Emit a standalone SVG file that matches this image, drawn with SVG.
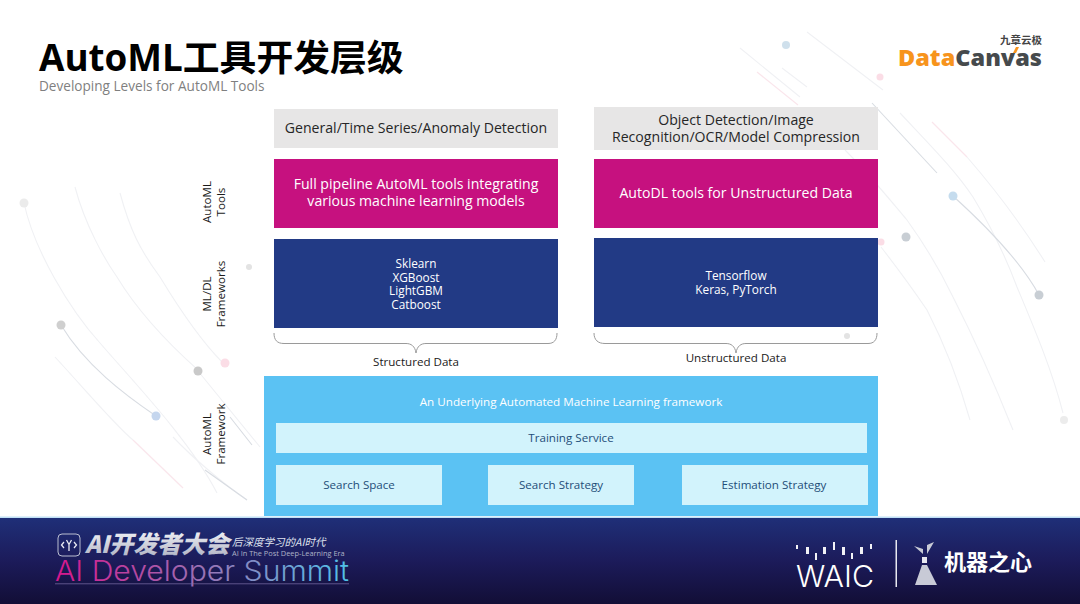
<svg xmlns="http://www.w3.org/2000/svg" width="1080" height="604" viewBox="0 0 1080 604">
<defs>
<linearGradient id="band" x1="0" y1="0" x2="0" y2="1"><stop offset="0" stop-color="#1f2f78"/><stop offset="0.5" stop-color="#1c1b5a"/><stop offset="1" stop-color="#120e36"/></linearGradient>
<linearGradient id="sum" x1="0" y1="0" x2="1" y2="0"><stop offset="0" stop-color="#d8158c"/><stop offset="0.5" stop-color="#9b72b4"/><stop offset="1" stop-color="#4fc3e8"/></linearGradient>
<linearGradient id="silver" x1="0" y1="0" x2="0" y2="1"><stop offset="0" stop-color="#ffffff"/><stop offset="1" stop-color="#a9adc0"/></linearGradient>
</defs>
<style>
text{font-family:"Open Sans","Noto Sans","Noto Sans CJK SC",sans-serif;text-anchor:middle}
.g{fill:#e7e6e6}.m{fill:#c6117f}.n{fill:#223a85}.lt{fill:#d2f3fc}
.k{font-size:14.1px;fill:#262626}.w{font-size:14.1px;fill:#fff}.s{font-size:11.8px;fill:#fff}.c{font-size:11.6px;fill:#1f4e79}
.d{font-size:11.6px;fill:#1a1a1a}.rot{font-size:11.6px;fill:#1a1a1a}
.bl{fill:none;stroke:#f0f1f4;stroke-width:1.1}.bd{fill:none;stroke:#d8dce2;stroke-width:1.1}.bp{fill:none;stroke:#fae6ec;stroke-width:1.2}.br{fill:none;stroke:#9a9a9a;stroke-width:1}
</style>
<rect width="1080" height="604" fill="#fff"/>
<g id="background">
<path class="bl" d="M24 203C34 250 70 310 100 343C130 378 190 440 217 493"/>
<path class="bd" d="M61 325C85 365 125 395 156 416"/>
<path class="bl" d="M173 437C195 460 225 485 247 500"/>
<path class="bd" d="M205 470L247 500M230 417L252 445"/>
<path class="bl" d="M55 357C90 395 115 425 133 440"/>
<path class="bp" d="M133 440L183 488"/>
<path class="bl" d="M75 187C85 225 105 260 117 277C140 315 170 345 198 370M198 371L260 447"/>
<path class="bl" d="M120 193C130 230 140 250 160 277C180 310 200 340 223 363"/>
<path class="bl" d="M807 32L883 90M740 48L800 97M782 68L807 87"/>
<path class="bp" d="M757 72L798 105"/>
<path class="bd" d="M872 103L937 173"/>
<path class="bl" d="M900 113C930 145 955 170 973 197C990 225 1005 255 1017 287C1035 330 1052 370 1063 413"/>
<path class="bp" d="M932 122L967 157"/>
<path class="bl" d="M967 157C1000 195 1025 230 1045 262"/>
<path class="bd" d="M953 196C985 225 1020 260 1039 295"/>
<path class="bl" d="M845 150C870 175 890 200 907 220C925 245 940 270 953 297C975 340 995 385 1013 430"/>
<path class="bl" d="M881 247C895 265 910 285 927 310C945 345 960 385 970 420"/>
<circle cx="786" cy="45" r="4" fill="#cfe0ec"/><circle cx="880" cy="77" r="3.500" fill="#fbdde6"/><circle cx="953" cy="196" r="4.500" fill="#c5dcee"/><circle cx="906" cy="237" r="4.500" fill="#c8ced4"/><circle cx="1039" cy="295" r="4.500" fill="#c8ced4"/><circle cx="1064" cy="420" r="4" fill="#ececec"/><circle cx="881" cy="242" r="3.500" fill="#fbdde6"/>
<circle cx="24" cy="203" r="4.500" fill="#ebebeb"/><circle cx="61" cy="325" r="4.500" fill="#cfcfcf"/><circle cx="198" cy="371" r="4.500" fill="#c9c9c9"/><circle cx="225" cy="363" r="4.500" fill="#fbdde6"/><circle cx="156" cy="416" r="4.500" fill="#c5d6ee"/><circle cx="249" cy="267" r="3" fill="#e3e3e3"/><circle cx="847" cy="336" r="3" fill="#e3e3e3"/>
</g>
<g id="title">
<text x="39" y="71" style="text-anchor:start;font-size:36.8px;font-weight:700;fill:#000;font-family:'Open Sans','Noto Sans CJK SC',sans-serif">AutoML工具开发层级</text>
<text x="39" y="91" style="text-anchor:start;font-size:13.6px;fill:#7f7f7f">Developing Levels for AutoML Tools</text>
</g>
<g id="logo-datacanvas">
<text x="1042" y="43.500" style="text-anchor:end;font-size:10.500px;font-weight:700;fill:#444;font-family:'Noto Sans CJK SC',sans-serif">九章云极</text>
<text x="898" y="65.500" textLength="144" lengthAdjust="spacingAndGlyphs" style="text-anchor:start;font-size:23.500px;font-weight:800;fill:#f7941d;font-family:'Open Sans',sans-serif">Data<tspan fill="#464a4c">Canvas</tspan></text>
<path d="M1013 53L1016 47H1019L1016 53Z" fill="#f7941d"/>
</g>
<g id="label-automl-tools" transform="translate(212 202) rotate(-90)"><text class="rot"><tspan x="0" y="-1">AutoML</tspan><tspan x="0" y="13">Tools</tspan></text></g>
<g id="label-frameworks" transform="translate(212 294) rotate(-90)"><text class="rot"><tspan x="0" y="-1">ML/DL</tspan><tspan x="0" y="13">Frameworks</tspan></text></g>
<g id="label-automl-framework" transform="translate(212 434) rotate(-90)"><text class="rot"><tspan x="0" y="-1">AutoML</tspan><tspan x="0" y="13">Framework</tspan></text></g>
<g id="node-general"><rect class="g" x="274" y="109" width="284" height="39"/><text class="k" x="416" y="133">General/Time Series/Anomaly Detection</text></g>
<g id="node-object"><rect class="g" x="594" y="107" width="284" height="43"/><text class="k" x="736" y="125">Object Detection/Image</text><text class="k" x="736" y="142">Recognition/OCR/Model Compression</text></g>
<g id="node-full-pipeline"><rect class="m" x="274" y="159" width="284" height="69"/><text class="w" x="416" y="189">Full pipeline AutoML tools integrating</text><text class="w" x="416" y="206">various machine learning models</text></g>
<g id="node-autodl"><rect class="m" x="594" y="159" width="284" height="69"/><text class="w" x="736" y="198">AutoDL tools for Unstructured Data</text></g>
<g id="node-sklearn"><rect class="n" x="274" y="239" width="284" height="89"/><text class="s" x="416" y="268">Sklearn</text><text class="s" x="416" y="281.500">XGBoost</text><text class="s" x="416" y="295">LightGBM</text><text class="s" x="416" y="308.500">Catboost</text></g>
<g id="node-tensorflow"><rect class="n" x="594" y="238" width="284" height="89"/><text class="s" x="736" y="280">Tensorflow</text><text class="s" x="736" y="294">Keras, PyTorch</text></g>
<g id="connectors">
<path class="br" d="M274 333C274 340 277 343.500 284 343.500H406C411 343.500 415 346 416 353C417 346 421 343.500 426 343.500H548C554 343.500 557 340 557 333"/>
<path class="br" d="M594 333C594 340 598 343.500 605 343.500H726C731 343.500 735 346 736 353C737 346 741 343.500 746 343.500H868C874 343.500 877 340 877 333"/>
</g>
<g id="label-structured"><text class="d" x="416" y="366">Structured Data</text></g>
<g id="label-unstructured"><text class="d" x="736" y="362">Unstructured Data</text></g>
<g id="node-framework"><rect x="264" y="376" width="614" height="140" fill="#5bc2f3"/><text x="571" y="406" style="font-size:11.65px;fill:#fff">An Underlying Automated Machine Learning framework</text></g>
<g id="node-training"><rect class="lt" x="276" y="423" width="591" height="30"/><text class="c" x="571" y="442">Training Service</text></g>
<g id="node-space"><rect class="lt" x="276" y="465" width="166" height="40"/><text class="c" x="359" y="489">Search Space</text></g>
<g id="node-strategy"><rect class="lt" x="488" y="465" width="146" height="40"/><text class="c" x="561" y="489">Search Strategy</text></g>
<g id="node-estimation"><rect class="lt" x="682" y="465" width="186" height="40"/><text class="c" x="774" y="489">Estimation Strategy</text></g>
<g id="footer">
<rect y="516.500" width="1080" height="1.500" fill="#bfe0f6"/>
<rect y="518" width="1080" height="86" fill="url(#band)"/>
<rect x="58" y="534" width="22" height="22" rx="4" fill="none" stroke="#b9bdd0" stroke-width="1"/>
<path d="M64 542L61.500 545L64 548M74 542L76.500 545L74 548M66.500 540L69 544.500L71.500 540M69 544.500V551" fill="none" stroke="#e8e9f2" stroke-width="1.300"/>
<text x="85" y="553" style="text-anchor:start;font-size:24px;font-weight:800;font-style:italic;fill:url(#silver);font-family:'Noto Sans CJK SC',sans-serif">AI开发者大会</text>
<text x="232" y="546" style="text-anchor:start;font-size:10.500px;font-style:italic;fill:#dfe2ee;font-family:'Noto Sans CJK SC',sans-serif">后深度学习的AI时代</text>
<text x="232" y="555.500" style="text-anchor:start;font-size:7.400px;fill:#aeb3c8">AI In The Post Deep-Learning Era</text>
<text x="55" y="581" textLength="294" lengthAdjust="spacingAndGlyphs" style="text-anchor:start;font-size:28px;font-weight:300;fill:url(#sum);font-family:'Inter','Liberation Sans',sans-serif">AI Developer Summit</text>
<rect x="55" y="583.500" width="294" height="0.700" fill="#7d6fa8"/>
<text x="835" y="587" textLength="78" lengthAdjust="spacingAndGlyphs" style="font-size:30px;font-weight:300;fill:#fff;font-family:'Inter','Liberation Sans',sans-serif">WAIC</text>
<g fill="#f2f2f6"><rect x="796" y="545" width="2" height="4"/><rect x="806" y="547" width="3" height="7"/><rect x="815" y="553" width="2" height="7"/><rect x="823" y="547" width="3" height="7"/><rect x="833" y="542" width="2" height="8"/><rect x="842" y="547" width="3" height="8"/><rect x="851" y="553" width="2" height="6"/><rect x="860" y="547" width="3" height="7"/><rect x="870" y="544" width="2" height="5"/></g>
<rect x="895.500" y="540" width="1.500" height="47" fill="#e8e8f0"/>
<path d="M914 546L923 549L923 554ZM934 542L927 545L927 554ZM922 565H927L937 585H915Z" fill="#c8cad6"/>
<rect x="922" y="557" width="5" height="6" fill="#e8e8f0"/>
<text x="944" y="570" style="text-anchor:start;font-size:22px;font-weight:700;fill:#fff;font-family:'Noto Sans CJK SC',sans-serif">机器之心</text>
</g>
</svg>
